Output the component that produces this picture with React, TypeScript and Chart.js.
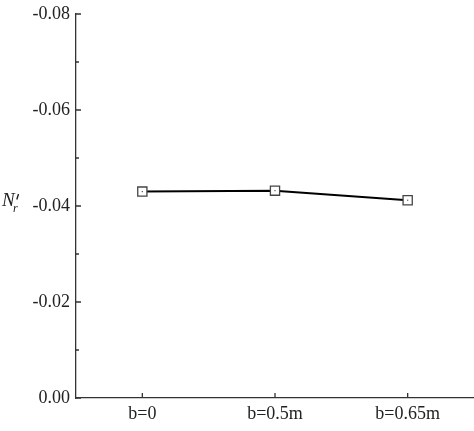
import React, { useEffect, useRef } from "react";
import { Chart, registerables } from "chart.js";

Chart.register(...registerables);

const categories: string[] = ["b=0", "b=0.5m", "b=0.65m"];
const nrValues: number[] = [-0.043, -0.0432, -0.0412];
const yMajorTicks: number[] = [-0.08, -0.06, -0.04, -0.02, 0];
const yMinorTicks: number[] = [-0.07, -0.05, -0.03, -0.01];

const FONT = "'Liberation Serif', 'Times New Roman', serif";

// inward ticks, marker centre dots and the y title
const decorPlugin = {
  id: "decor",
  afterDraw(chart: any) {
    const { ctx, chartArea, scales } = chart;
    const x = scales.x;
    const y = scales.y;
    ctx.save();
    ctx.strokeStyle = "#333";
    ctx.lineWidth = 1.3;
    ctx.beginPath();
    yMajorTicks.forEach((v) => {
      const py = y.getPixelForValue(v);
      ctx.moveTo(chartArea.left, py);
      ctx.lineTo(chartArea.left + 5, py);
    });
    yMinorTicks.forEach((v) => {
      const py = y.getPixelForValue(v);
      ctx.moveTo(chartArea.left, py);
      ctx.lineTo(chartArea.left + 3, py);
    });
    categories.forEach((_, i) => {
      const px = x.getPixelForValue(i);
      ctx.moveTo(px, chartArea.bottom);
      ctx.lineTo(px, chartArea.bottom - 5);
    });
    ctx.stroke();

    // small dot in the middle of each marker
    ctx.fillStyle = "#555";
    chart.getDatasetMeta(0).data.forEach((pt: any) => {
      ctx.fillRect(pt.x - 0.6, pt.y - 0.6, 1.2, 1.2);
    });

    // axis title N'_r
    const cy = y.getPixelForValue(-0.04);
    ctx.fillStyle = "#222";
    ctx.strokeStyle = "#222";
    ctx.textBaseline = "alphabetic";
    ctx.font = `italic 19px ${FONT}`;
    ctx.fillText("N", 2, cy);
    ctx.lineWidth = 1.4;
    ctx.beginPath();
    ctx.moveTo(18.5, cy - 12);
    ctx.lineTo(16.8, cy - 6.5);
    ctx.stroke();
    ctx.font = `italic 12px ${FONT}`;
    ctx.fillText("r", 13, cy + 6);
    ctx.restore();
  },
};

const App: React.FC = () => {
  const chartRef = useRef<HTMLCanvasElement | null>(null);

  useEffect(() => {
    document.body.style.margin = "0";
    let chartInstance: Chart | null = null;
    if (chartRef.current) {
      const ctx = chartRef.current.getContext("2d");
      if (ctx) {
        chartInstance = new Chart(ctx, {
          type: "line",
          data: {
            labels: categories,
            datasets: [
              {
                label: "N'r",
                data: nrValues,
                borderColor: "#000",
                borderWidth: 2,
                fill: false,
                tension: 0,
                pointStyle: "rect",
                pointRadius: 6.5,
                pointBorderWidth: 1.3,
                pointBorderColor: "#444",
                pointBackgroundColor: "#fff",
              },
            ],
          },
          options: {
            animation: false,
            responsive: false,
            maintainAspectRatio: false,
            layout: {
              autoPadding: false,
              padding: { top: 14, right: 0, left: 0, bottom: 0 },
            },
            plugins: {
              legend: { display: false },
              tooltip: { enabled: false },
            },
            scales: {
              x: {
                type: "category",
                offset: true,
                grid: { display: false, drawTicks: false },
                border: { display: true, color: "#333", width: 1.3 },
                ticks: {
                  color: "#222",
                  padding: 5,
                  font: { family: FONT, size: 18 },
                  maxRotation: 0,
                },
                afterFit: (scale: any) => {
                  scale.height = 33;
                  scale.paddingLeft = 0;
                  scale.paddingRight = 0;
                },
              },
              y: {
                type: "linear",
                reverse: true,
                min: -0.08,
                max: 0,
                grid: { display: false, drawTicks: false },
                border: { display: true, color: "#333", width: 1.3 },
                ticks: {
                  stepSize: 0.02,
                  color: "#222",
                  padding: 6,
                  font: { family: FONT, size: 18 },
                  callback: (v: any) => Number(v).toFixed(2),
                },
                afterFit: (scale: any) => {
                  scale.width = 76;
                  scale.paddingTop = 0;
                  scale.paddingBottom = 0;
                },
              },
            },
          },
          plugins: [decorPlugin],
        });
      }
    }
    return () => {
      if (chartInstance) {
        chartInstance.destroy();
      }
    };
  }, []);

  return (
    <div style={{ width: 474, height: 431, background: "#fff" }}>
      <canvas ref={chartRef} width={474} height={431} />
    </div>
  );
};

export default App;
